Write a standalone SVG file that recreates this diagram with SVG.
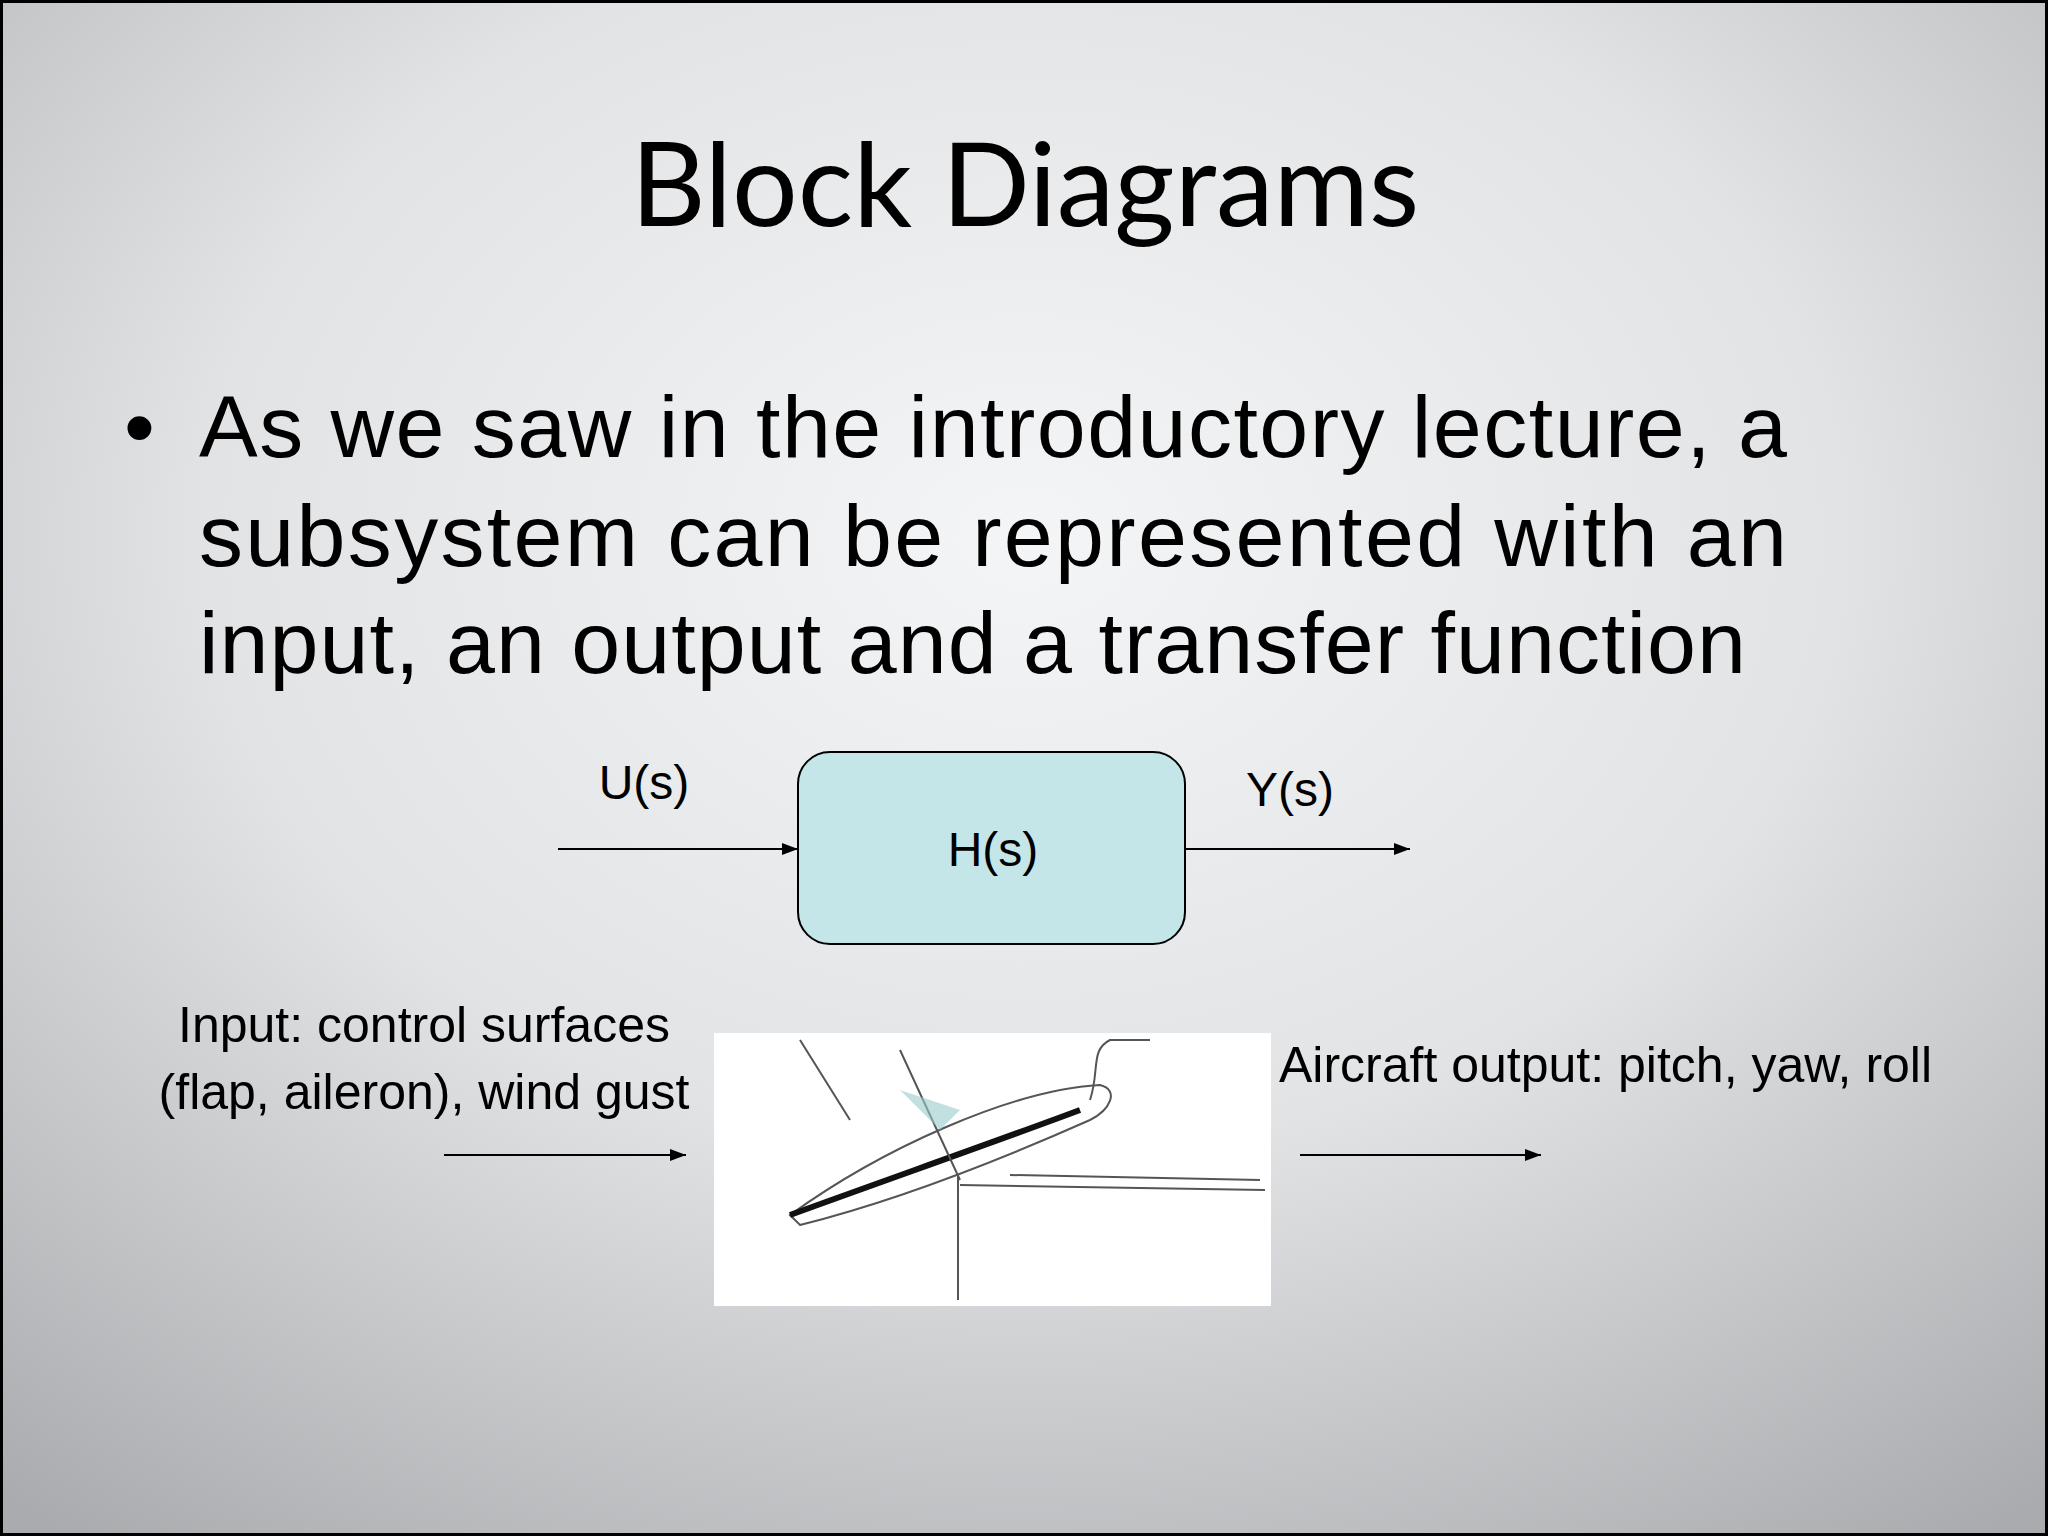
<svg xmlns="http://www.w3.org/2000/svg" width="2048" height="1536" viewBox="0 0 2048 1536">
<defs>
<radialGradient id="bg" cx="0.5" cy="0.35" r="0.8">
<stop offset="0" stop-color="#f4f5f6"/><stop offset="0.5" stop-color="#e2e3e5"/><stop offset="1" stop-color="#a9abae"/>
</radialGradient>
<marker id="ah" markerWidth="16" markerHeight="12" refX="16" refY="6" orient="auto" markerUnits="userSpaceOnUse"><path d="M0,0 L16,6 L0,12 Z" fill="#000"/></marker>
<style>
.t{font-family:"Liberation Sans",Arial,sans-serif;fill:#000}
.c{stroke:#000;stroke-width:2;fill:none;marker-end:url(#ah)}
.sk{stroke:#555;stroke-width:2;fill:none}
</style>
</defs>
<rect x="0" y="0" width="2048" height="1536" fill="url(#bg)" stroke="#000" stroke-width="6"/>
<text x="1025" y="226" text-anchor="middle" font-family="Lato,'Open Sans',sans-serif" font-size="116" fill="#000">Block Diagrams</text>
<g id="bullet" class="t" font-size="88">
<text x="124" y="457">•</text>
<text x="199" y="457" textLength="1588" lengthAdjust="spacing">As we saw in the introductory lecture, a</text>
<text x="199" y="566" textLength="1588" lengthAdjust="spacing">subsystem can be represented with an</text>
<text x="199" y="673" textLength="1547" lengthAdjust="spacing">input, an output and a transfer function</text>
</g>
<g id="H">
<rect x="798" y="752" width="387" height="192" rx="32" fill="#c5e6e8" stroke="#000" stroke-width="2"/>
<text class="t" x="993" y="866" text-anchor="middle" font-size="48">H(s)</text>
</g>
<g id="labels" class="t" font-size="48">
<text x="644" y="799" text-anchor="middle">U(s)</text>
<text x="1290" y="806" text-anchor="middle">Y(s)</text>
</g>
<g id="aircraft">
<rect x="714" y="1033" width="557" height="273" fill="#fff"/>
<path class="sk" d="M790,1215 C880,1150 1010,1090 1100,1085 C1120,1090 1110,1110 1090,1120 C1000,1160 900,1200 800,1225 Z"/>
<path d="M790,1215 C900,1175 1000,1140 1080,1110" stroke="#111" stroke-width="6" fill="none"/>
<path class="sk" d="M1090,1100 C1100,1070 1090,1050 1110,1040 L1150,1040"/>
<path class="sk" d="M960,1185 L1265,1190 M1010,1175 L1260,1180"/>
<path class="sk" d="M958,1175 L958,1300 M900,1050 L960,1180 M800,1040 L850,1120"/>
<path d="M900,1090 L940,1130 L960,1110 Z" fill="#9cc" opacity="0.6"/>
</g>
<g id="io" class="t" font-size="50">
<text x="424" y="1042" text-anchor="middle">Input: control surfaces</text>
<text x="424" y="1109" text-anchor="middle">(flap, aileron), wind gust</text>
<text x="1279" y="1082">Aircraft output: pitch, yaw, roll</text>
</g>
<g id="connectors">
<line class="c" x1="558" y1="849" x2="798" y2="849"/>
<line class="c" x1="1185" y1="849" x2="1410" y2="849"/>
<line class="c" x1="444" y1="1155" x2="686" y2="1155"/>
<line class="c" x1="1300" y1="1155" x2="1541" y2="1155"/>
</g>
</svg>
